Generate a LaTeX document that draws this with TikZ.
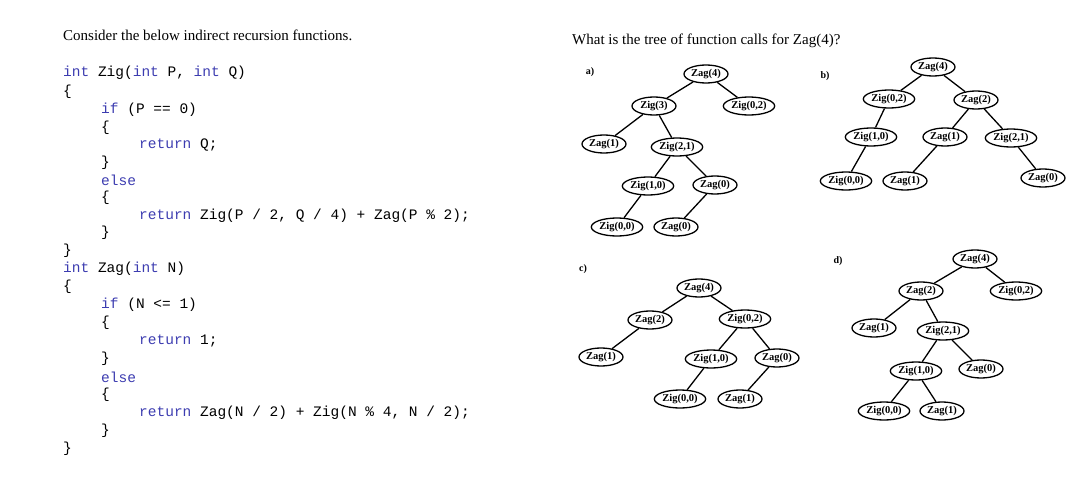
\documentclass[tikz,border=0pt]{standalone}
\usepackage{fontspec}
\setmainfont{Liberation Serif}
\setmonofont{Liberation Mono}
\usetikzlibrary{shapes.geometric}
\definecolor{kw}{HTML}{3C3CB0}
\newcommand{\kw}[1]{\textcolor{kw}{#1}}
\begin{document}
\begin{tikzpicture}[x=1pt,y=-1pt,
  call/.style={ellipse,draw,line width=1.3pt,inner sep=0.5pt,minimum width=44pt,minimum height=18pt,font=\bfseries\fontsize{10.5}{11}\selectfont},
  edge/.style={line width=1.3pt},
  code/.style={anchor=west,inner sep=0,font=\ttfamily\fontsize{14.5}{15}\selectfont},
  lab/.style={font=\bfseries\fontsize{10}{10}\selectfont,inner sep=0}]
\useasboundingbox (0,0) rectangle (1080,479);
\node[anchor=west,inner sep=0,font=\fontsize{15}{16}\selectfont] (t1) at (63,35) {Consider the below indirect recursion functions.};
\node[anchor=west,inner sep=0,font=\fontsize{15}{16}\selectfont] (t2) at (572,41) {What is the tree of function calls for Zag(4)?};
% code
\node[code] (l1) at (63,73) {\kw{int} Zig(\kw{int} P, \kw{int} Q)};
\node[code] (l2) at (63,92) {\{};
\node[code] (l3) at (101,110) {\kw{if} (P == 0)};
\node[code] (l4) at (101,128) {\{};
\node[code] (l5) at (139,145) {\kw{return} Q;};
\node[code] (l6) at (101,163) {\}};
\node[code] (l7) at (101,180) {\kw{else}};
\node[code] (l8) at (101,198) {\{};
\node[code] (l9) at (139,216) {\kw{return} Zig(P / 2, Q / 4) + Zag(P \% 2);};
\node[code] (l10) at (101,233) {\}};
\node[code] (l11) at (63,251) {\}};
\node[code] (l12) at (63,269) {\kw{int} Zag(\kw{int} N)};
\node[code] (l13) at (63,287) {\{};
\node[code] (l14) at (101,305) {\kw{if} (N <= 1)};
\node[code] (l15) at (101,323) {\{};
\node[code] (l16) at (139,341) {\kw{return} 1;};
\node[code] (l17) at (101,359) {\}};
\node[code] (l18) at (101,377) {\kw{else}};
\node[code] (l19) at (101,395) {\{};
\node[code] (l20) at (139,413) {\kw{return} Zag(N / 2) + Zig(N \% 4, N / 2);};
\node[code] (l21) at (101,431) {\}};
\node[code] (l22) at (63,449) {\}};
% tree a
\node[lab] (la) at (590,72) {a)};
\node[call] (a1) at (706,74) {Zag(4)};
\node[call] (a2) at (654,106) {Zig(3)};
\node[call] (a3) at (749,106) {Zig(0,2)};
\node[call] (a4) at (604,144) {Zag(1)};
\node[call] (a5) at (677,147) {Zig(2,1)};
\node[call] (a6) at (648,186) {Zig(1,0)};
\node[call] (a7) at (715,185) {Zag(0)};
\node[call] (a8) at (617,227) {Zig(0,0)};
\node[call] (a9) at (676,227) {Zag(0)};
\draw[edge] (a1)--(a2) (a1)--(a3) (a2)--(a4) (a2)--(a5) (a5)--(a6) (a5)--(a7) (a6)--(a8) (a7)--(a9);
% tree b
\node[lab] (lb) at (825,76) {b)};
\node[call] (b1) at (933,67) {Zag(4)};
\node[call] (b2) at (889,99) {Zig(0,2)};
\node[call] (b3) at (976,100) {Zag(2)};
\node[call] (b4) at (871,137) {Zig(1,0)};
\node[call] (b5) at (945,137) {Zag(1)};
\node[call] (b6) at (1011,138) {Zig(2,1)};
\node[call] (b7) at (846,181) {Zig(0,0)};
\node[call] (b8) at (905,181) {Zag(1)};
\node[call] (b9) at (1043,178) {Zag(0)};
\draw[edge] (b1)--(b2) (b1)--(b3) (b2)--(b4) (b3)--(b5) (b3)--(b6) (b4)--(b7) (b5)--(b8) (b6)--(b9);
% tree c
\node[lab] (lc) at (583,269) {c)};
\node[call] (c1) at (699,288) {Zag(4)};
\node[call] (c2) at (650,320) {Zag(2)};
\node[call] (c3) at (745,319) {Zig(0,2)};
\node[call] (c4) at (601,357) {Zag(1)};
\node[call] (c5) at (711,359) {Zig(1,0)};
\node[call] (c6) at (777,358) {Zag(0)};
\node[call] (c7) at (680,399) {Zig(0,0)};
\node[call] (c8) at (740,399) {Zag(1)};
\draw[edge] (c1)--(c2) (c1)--(c3) (c2)--(c4) (c3)--(c5) (c3)--(c6) (c5)--(c7) (c6)--(c8);
% tree d
\node[lab] (ld) at (838,261) {d)};
\node[call] (d1) at (975,259) {Zag(4)};
\node[call] (d2) at (921,291) {Zag(2)};
\node[call] (d3) at (1016,291) {Zig(0,2)};
\node[call] (d4) at (874,328) {Zag(1)};
\node[call] (d5) at (943,331) {Zig(2,1)};
\node[call] (d6) at (916,371) {Zig(1,0)};
\node[call] (d7) at (981,369) {Zag(0)};
\node[call] (d8) at (884,411) {Zig(0,0)};
\node[call] (d9) at (942,411) {Zag(1)};
\draw[edge] (d1)--(d2) (d1)--(d3) (d2)--(d4) (d2)--(d5) (d5)--(d6) (d5)--(d7) (d6)--(d8) (d6)--(d9);
\end{tikzpicture}
\end{document}
